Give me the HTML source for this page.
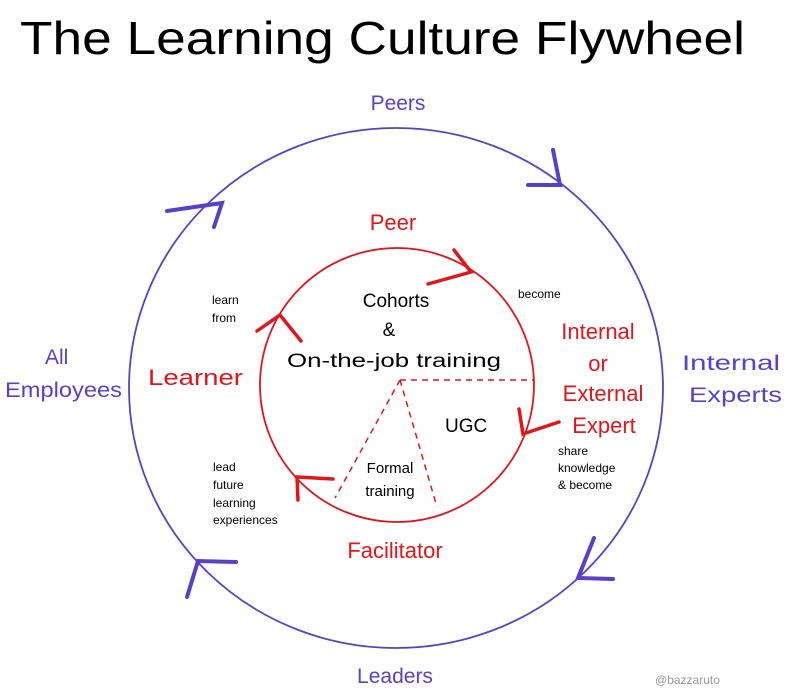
<!DOCTYPE html>
<html><head><meta charset="utf-8"><style>
html,body{margin:0;padding:0;background:#fff;width:800px;height:699px;overflow:hidden}
svg{display:block}
text{font-family:"Liberation Sans",sans-serif}
</style></head><body>
<svg width="800" height="699" viewBox="0 0 800 699" xmlns="http://www.w3.org/2000/svg">
<text x="20" y="54" font-size="46" fill="#000" textLength="725" lengthAdjust="spacingAndGlyphs">The Learning Culture Flywheel</text>

<ellipse cx="396" cy="388" rx="267" ry="260" fill="none" stroke="#5a3fc8" stroke-width="1.8"/>
<g stroke="#5a3fc8" stroke-width="4" fill="none" stroke-linecap="round">
<polyline points="167,211 222,203 214,227"/>
<polyline points="553,150 560,185 528,185"/>
<polyline points="594,538 578,578 613,579"/>
<polyline points="236,562 198,561 187,597"/>
</g>

<ellipse cx="397" cy="385" rx="137" ry="137" fill="none" stroke="#e0161a" stroke-width="1.8"/>
<g stroke="#e0161a" stroke-width="1.5" stroke-dasharray="6,5" fill="none">
<line x1="400" y1="380" x2="534" y2="380"/>
<line x1="400" y1="380" x2="335" y2="498"/>
<line x1="400" y1="380" x2="437" y2="507"/>
</g>
<g stroke="#e0161a" stroke-width="3.5" fill="none" stroke-linecap="round">
<polyline points="454,250 471,272 428,284"/>
<polyline points="257,331 280,315 301,341"/>
<polyline points="519,409 523,434 559,422"/>
<polyline points="333,479 297,477 298,500"/>
</g>

<g fill="#5a3fc8" font-size="21">
<text x="398" y="110" text-anchor="middle">Peers</text>
<text x="45" y="364">All</text>
<text x="5" y="397" textLength="117" lengthAdjust="spacingAndGlyphs">Employees</text>
<text x="682" y="370" textLength="98" lengthAdjust="spacingAndGlyphs">Internal</text>
<text x="689" y="402" textLength="93" lengthAdjust="spacingAndGlyphs">Experts</text>
<text x="395" y="683" text-anchor="middle">Leaders</text>
</g>
<text x="655" y="684" font-size="12" fill="#999">@bazzaruto</text>

<g fill="#e0161a" font-size="22">
<text x="393" y="230" text-anchor="middle">Peer</text>
<text x="148" y="385" textLength="95" lengthAdjust="spacingAndGlyphs">Learner</text>
<text x="598" y="339" text-anchor="middle">Internal</text>
<text x="598" y="371" text-anchor="middle">or</text>
<text x="603" y="401" text-anchor="middle">External</text>
<text x="604" y="433" text-anchor="middle">Expert</text>
<text x="395" y="558" text-anchor="middle">Facilitator</text>
</g>

<g fill="#000" font-size="19">
<text x="396" y="307" text-anchor="middle">Cohorts</text>
<text x="389" y="336" text-anchor="middle">&amp;</text>
<text x="287" y="367" textLength="214" lengthAdjust="spacingAndGlyphs">On-the-job training</text>
<text x="445" y="432">UGC</text>
</g>
<g fill="#000" font-size="15">
<text x="390" y="473" text-anchor="middle">Formal</text>
<text x="390" y="496" text-anchor="middle">training</text>
</g>
<g fill="#000" font-size="12">
<text x="212" y="304">learn</text>
<text x="212" y="322">from</text>
<text x="518" y="298">become</text>
<text x="558" y="455">share</text>
<text x="558" y="472">knowledge</text>
<text x="558" y="489">&amp; become</text>
<text x="213" y="471">lead</text>
<text x="213" y="489">future</text>
<text x="213" y="507">learning</text>
<text x="213" y="524">experiences</text>
</g>
</svg>
</body></html>
